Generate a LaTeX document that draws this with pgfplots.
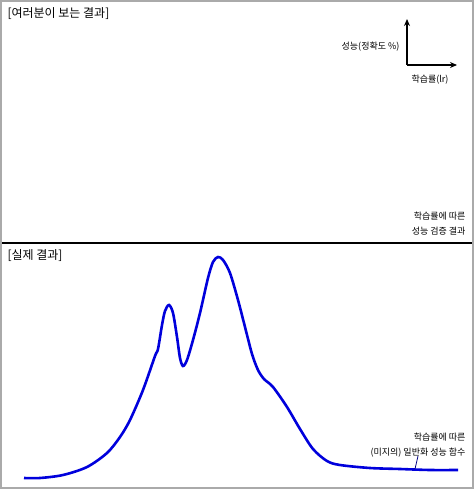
\documentclass[border=0pt]{standalone}
\usepackage{pgfplots}
\pgfplotsset{compat=1.18}
\usepackage{fontspec}
\setmainfont{Noto Sans CJK KR}
\usetikzlibrary{arrows.meta}
\definecolor{curveblue}{RGB}{0,0,220}
\definecolor{framegray}{RGB}{170,170,170}
\begin{document}
\begin{tikzpicture}
    \begin{axis}
        [
            width=474pt,height=489pt,
            scale only axis,
            hide axis,
            clip=false,
            xmin=0,xmax=474,
            ymin=0,ymax=489,
            y dir=reverse
        ]
        % outer frame and divider
        \draw[framegray, line width=2pt] (1,1) rectangle (473,488);
        \draw[black, line width=1.3pt] (2,243) -- (472,243);

        % top panel
        \node[anchor=west, font=\fontsize{12}{14}\selectfont] at (4,14) {[여러분이 보는 결과]};
        \draw[-{Stealth[length=7pt,width=6pt]}, line width=1.2pt] (407,65) -- (407,19);
        \draw[-{Stealth[length=7pt,width=6pt]}, line width=1.2pt] (407,65) -- (457,65);
        \node[anchor=east, font=\fontsize{9}{11}\selectfont] at (403,47) {성능(정확도 \%)};
        \node[anchor=west, font=\fontsize{9}{11}\selectfont] at (408,80) {학습률(lr)};
        \node[anchor=east, align=right, font=\fontsize{9}{15}\selectfont] at (469,224) {학습률에 따른\\성능 검증 결과};

        % bottom panel
        \node[anchor=west, font=\fontsize{12}{14}\selectfont] at (4,256) {[실제 결과]};
        \addplot[curveblue, line width=2.6pt, smooth, tension=0.5] coordinates {
            (24,478) (40,478) (63,475) (87,467) (107,453) (120,437) (130,420)
            (143,390) (155,356) (158,349) (162,325) (165,311) (169,305)
            (173,313) (177,337) (180,358) (183,366) (187,360) (193,340)
            (200,313) (208,278) (213,262) (218,257) (223,260) (230,273)
            (238,300) (245,327) (252,354) (258,370) (264,379) (273,387)
            (287,407) (300,429) (313,449) (327,461) (340,465) (370,468)
            (400,469) (430,470) (458,470)
        };
        \draw[curveblue!60!black, line width=0.8pt] (418,456) -- (415,469);
        \node[anchor=east, align=right, font=\fontsize{9}{15}\selectfont] at (469,445) {학습률에 따른\\(미지의) 일반화 성능 함수};
    \end{axis}
\end{tikzpicture}
\end{document}
